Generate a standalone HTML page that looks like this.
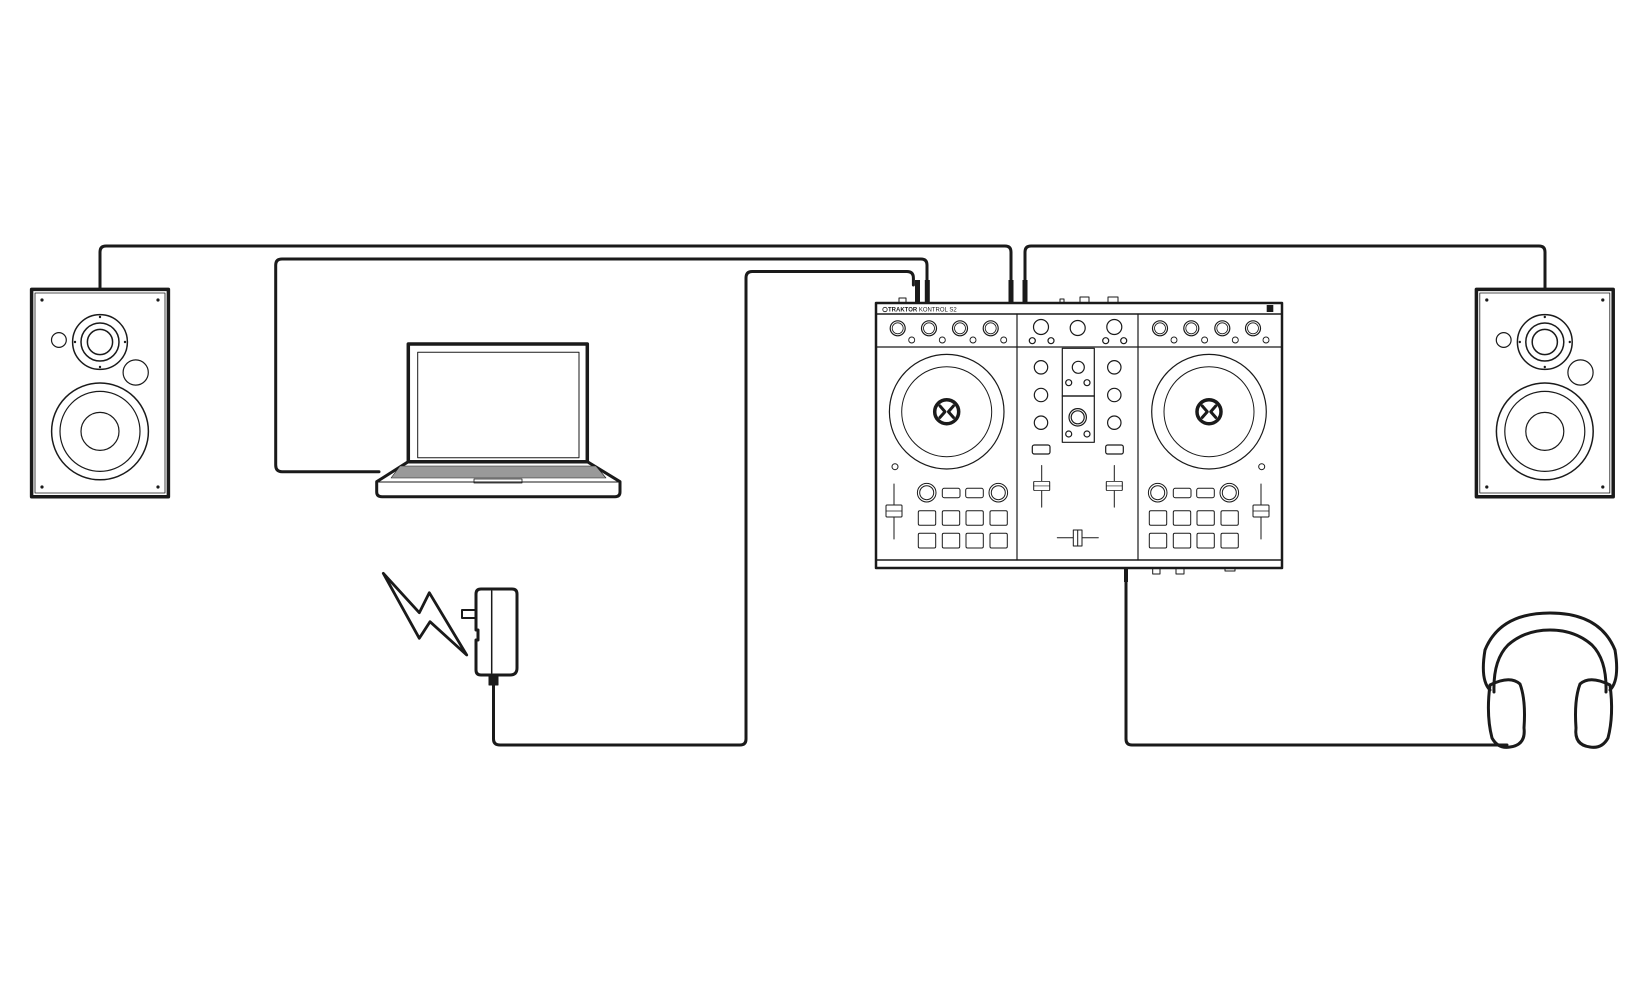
<!DOCTYPE html>
<html><head><meta charset="utf-8"><style>html,body{margin:0;padding:0;background:#fff}svg{display:block}</style></head>
<body>
<svg width="1650" height="992" viewBox="0 0 1650 992" xmlns="http://www.w3.org/2000/svg" fill="none" stroke="#1a1a1a" stroke-linejoin="round" stroke-linecap="round">
<defs>
<g id="spk">
<rect x="31.6" y="289.4" width="136.8" height="207.3" stroke-width="3.5"/>
<rect x="35" y="293" width="130" height="200" stroke-width="0.8"/>
<circle cx="100" cy="342" r="27.4" stroke-width="1.5"/>
<circle cx="100" cy="342" r="19" stroke-width="1.5"/>
<circle cx="100" cy="342" r="12.6" stroke-width="1.5"/>
<circle cx="58.9" cy="340" r="7.4" stroke-width="1.2"/>
<circle cx="135.7" cy="372.5" r="12.6" stroke-width="1.2"/>
<circle cx="100" cy="431.4" r="48.4" stroke-width="1.5"/>
<circle cx="100" cy="431.4" r="40" stroke-width="1.2"/>
<circle cx="100" cy="431.4" r="19" stroke-width="1.2"/>
<g fill="#1a1a1a" stroke="none">
<circle cx="42" cy="300" r="1.6"/><circle cx="158" cy="300" r="1.6"/><circle cx="42" cy="487" r="1.6"/><circle cx="158" cy="487" r="1.6"/>
<circle cx="100" cy="317" r="1.2"/><circle cx="100" cy="367" r="1.2"/><circle cx="75" cy="342" r="1.2"/><circle cx="125" cy="342" r="1.2"/>
</g>
</g>
<g id="decktop">
<circle cx="897.7" cy="328.3" r="7.5" stroke-width="1.2"/><circle cx="929" cy="328.3" r="7.5" stroke-width="1.2"/><circle cx="960" cy="328.3" r="7.5" stroke-width="1.2"/><circle cx="990.7" cy="328.3" r="7.5" stroke-width="1.2"/>
<circle cx="897.7" cy="328.3" r="5.5" stroke-width="0.8"/><circle cx="929" cy="328.3" r="5.5" stroke-width="0.8"/><circle cx="960" cy="328.3" r="5.5" stroke-width="0.8"/><circle cx="990.7" cy="328.3" r="5.5" stroke-width="0.8"/>
<circle cx="911.7" cy="340" r="3" stroke-width="0.9"/><circle cx="942.3" cy="340" r="3" stroke-width="0.9"/><circle cx="973" cy="340" r="3" stroke-width="0.9"/><circle cx="1003.7" cy="340" r="3" stroke-width="0.9"/>
<circle cx="946.7" cy="411.7" r="57.3" stroke-width="1.2"/>
<circle cx="946.7" cy="411.7" r="45" stroke-width="1"/>
<circle cx="946.7" cy="411.7" r="12" stroke-width="3.5"/>
<path d="M940 406 L945 411.7 L940 417.4 M953.4 406 L948.4 411.7 L953.4 417.4" stroke-width="3"/>
</g>
<g id="deckbot" stroke-width="1">
<rect x="942.3" y="488.3" width="17.7" height="9.4" rx="2"/><rect x="965.7" y="488.3" width="17.6" height="9.4" rx="2"/>
<circle cx="926.7" cy="492.7" r="9.3"/><circle cx="926.7" cy="492.7" r="7"/>
<circle cx="998.3" cy="492.7" r="9.3"/><circle cx="998.3" cy="492.7" r="7"/>
<rect x="918.3" y="510.7" width="17.4" height="14.6" rx="1.5"/><rect x="942.3" y="510.7" width="17.4" height="14.6" rx="1.5"/><rect x="966" y="510.7" width="17.3" height="14.6" rx="1.5"/><rect x="990" y="510.7" width="17.3" height="14.6" rx="1.5"/>
<rect x="918.3" y="533.3" width="17.4" height="14.7" rx="1.5"/><rect x="942.3" y="533.3" width="17.4" height="14.7" rx="1.5"/><rect x="966" y="533.3" width="17.3" height="14.7" rx="1.5"/><rect x="990" y="533.3" width="17.3" height="14.7" rx="1.5"/>
</g>
<g id="fader">
<line x1="0" y1="0" x2="0" y2="55" stroke-width="1"/>
<rect x="-8" y="21" width="16" height="12" rx="1" fill="#fff" stroke-width="1"/>
<line x1="-8" y1="27" x2="8" y2="27" stroke-width="0.8"/>
</g>
</defs>

<!-- cables -->
<g stroke-width="3">
<path d="M100 289 V252 Q100 246 106 246 H1005 Q1011 246 1011 252 V285"/>
<path d="M1545 289 V252 Q1545 246 1539 246 H1031 Q1025 246 1025 252 V285"/>
<path d="M379 471.7 H282 Q275.7 471.7 275.7 465 V265 Q275.7 259 282 259 H921 Q927 259 927 265 V285"/>
<path d="M493.5 680 V739 Q493.5 745 500 745 H740 Q746 745 746 739 V278 Q746 271.5 752 271.5 H907 Q913.4 271.5 913.4 278 V285"/>
<path d="M1126 575 V739 Q1126 745 1132 745 H1507"/>
</g>

<use href="#spk"/>
<use href="#spk" transform="translate(1444.8 0)"/>

<!-- laptop -->
<rect x="408.3" y="344" width="179" height="117.7" stroke-width="3.5"/>
<rect x="417.7" y="352.3" width="161.3" height="105.4" stroke-width="1"/>
<path d="M408.3 461.7 H587.3 L620 481.7 V492 Q620 496.7 615 496.7 H382 Q376.7 496.7 376.7 492 V481.7 Z" stroke-width="3"/>
<path d="M400 466 H596 L606 478 H391 Z" fill="#999" stroke-width="0.6"/>
<rect x="474" y="479" width="48" height="4" stroke-width="0.8"/>
<line x1="376.7" y1="482" x2="620" y2="482" stroke-width="1"/>

<!-- lightning + adapter -->
<polygon points="383.3,573.3 419.3,612.7 429.3,592.7 466.7,655 430,621.7 419.3,638.3" stroke-width="2.8"/>
<path d="M476 594 Q476 589 481 589 H512 Q517 589 517 594 V668 Q517 675 510 675 H481 Q476 675 476 670 V640 H478 V630 H476 Z" stroke-width="3"/>
<line x1="491.7" y1="591" x2="491.7" y2="673" stroke-width="1.5"/>
<rect x="462" y="610" width="14" height="8" stroke-width="2"/>
<rect x="489" y="675" width="9" height="10" fill="#1a1a1a" stroke-width="1"/>

<!-- headphones -->
<g stroke-width="3">
<path d="M1490 690 Q1480 680 1485 650 Q1500 613 1550 613 Q1600 613 1615 650 Q1620 680 1610 690"/>
<path d="M1494 692 Q1493 660 1508 645 Q1525 630 1550 630 Q1575 630 1592 645 Q1607 660 1606 692"/>
<path d="M1490 685 Q1486 715 1492 738 Q1498 749 1510 747 Q1526 745 1524 728 Q1526 700 1520 684 Q1510 675 1490 685 Z"/>
<path d="M1610 685 Q1614 715 1608 738 Q1602 749 1590 747 Q1574 745 1576 728 Q1574 700 1580 684 Q1590 675 1610 685 Z"/>
</g>

<!-- controller -->
<g stroke-width="1.8">
<rect x="915" y="280" width="5" height="23" fill="#1a1a1a" stroke="none"/>
<rect x="924.8" y="280" width="5" height="23" fill="#1a1a1a" stroke="none"/>
<rect x="1008.5" y="280" width="5" height="23" fill="#1a1a1a" stroke="none"/>
<rect x="1022.5" y="280" width="5" height="23" fill="#1a1a1a" stroke="none"/>
<rect x="1060" y="299" width="4" height="4" stroke-width="1"/>
<rect x="1080" y="297" width="9" height="6" stroke-width="1"/>
<rect x="1108" y="297" width="10" height="6" stroke-width="1"/>
<rect x="899" y="298" width="7" height="5" stroke-width="1"/>
<rect x="1124" y="568" width="4" height="14" fill="#1a1a1a" stroke="none"/>
<rect x="1152.7" y="568" width="7.3" height="6" stroke-width="1"/>
<rect x="1176" y="568" width="8" height="6" stroke-width="1"/>
<rect x="1225" y="568" width="10" height="3" stroke-width="1"/>
</g>
<rect x="876" y="303" width="406" height="265" stroke-width="2.5" fill="#fff"/>
<g stroke-width="1.2">
<line x1="876" y1="314" x2="1282" y2="314" stroke-width="1.5"/>
<line x1="876" y1="560" x2="1282" y2="560" stroke-width="1.5"/>
<line x1="876" y1="347" x2="1282" y2="347"/>
<line x1="1017" y1="314" x2="1017" y2="560"/>
<line x1="1138" y1="314" x2="1138" y2="560"/>
</g>
<text x="888" y="311.5" font-family="Liberation Sans, sans-serif" font-size="6" font-weight="bold" fill="#1a1a1a" stroke="none">TRAKTOR <tspan font-weight="normal">KONTROL S2</tspan></text>
<circle cx="885" cy="309.5" r="2.2" stroke-width="0.8"/>
<rect x="1266.7" y="305" width="6.6" height="7" fill="#1a1a1a" stroke="none"/>
<use href="#decktop"/>
<use href="#decktop" transform="translate(262.3 0)"/>
<use href="#deckbot"/>
<use href="#deckbot" transform="translate(231 0)"/>
<circle cx="895" cy="466.7" r="3" stroke-width="1"/>
<circle cx="1261.7" cy="466.7" r="3" stroke-width="1"/>
<use href="#fader" transform="translate(894 484)"/>
<use href="#fader" transform="translate(1261 484)"/>
<g stroke-width="1.2">
<circle cx="1041" cy="327" r="7.5"/><circle cx="1077.7" cy="328" r="7.5"/><circle cx="1114.3" cy="327" r="7.5"/>
<circle cx="1032.3" cy="340.7" r="3"/><circle cx="1051" cy="340.7" r="3"/><circle cx="1105.7" cy="340.7" r="3"/><circle cx="1123.7" cy="340.7" r="3"/>
<circle cx="1041" cy="367.3" r="6.7"/><circle cx="1041" cy="395" r="6.7"/><circle cx="1041" cy="422.7" r="6.7"/>
<circle cx="1114.3" cy="367.3" r="6.7"/><circle cx="1114.3" cy="395" r="6.7"/><circle cx="1114.3" cy="422.7" r="6.7"/>
<rect x="1062.3" y="348.3" width="32" height="47.7"/><rect x="1062.3" y="396" width="32" height="46.3"/>
<circle cx="1078.3" cy="367.3" r="6"/><circle cx="1068.7" cy="382.7" r="3"/><circle cx="1087" cy="382.7" r="3"/>
<circle cx="1077.7" cy="417.3" r="8.7"/><circle cx="1077.7" cy="417.3" r="6.5"/><circle cx="1068.7" cy="434" r="3"/><circle cx="1087" cy="434" r="3"/>
<rect x="1032.3" y="445" width="17.7" height="9" rx="2"/><rect x="1105.7" y="445" width="17.6" height="9" rx="2"/>
</g>
<use href="#fader" transform="translate(1041.7 470) scale(1 0.76) translate(0 -6)"/>
<use href="#fader" transform="translate(1114.3 470) scale(1 0.76) translate(0 -6)"/>
<g stroke-width="1">
<line x1="1057.3" y1="537.7" x2="1098.3" y2="537.7"/>
<rect x="1073.3" y="530" width="8.7" height="16" fill="#fff"/>
<line x1="1077.7" y1="530" x2="1077.7" y2="546"/>
</g>
</svg>
</body></html>
